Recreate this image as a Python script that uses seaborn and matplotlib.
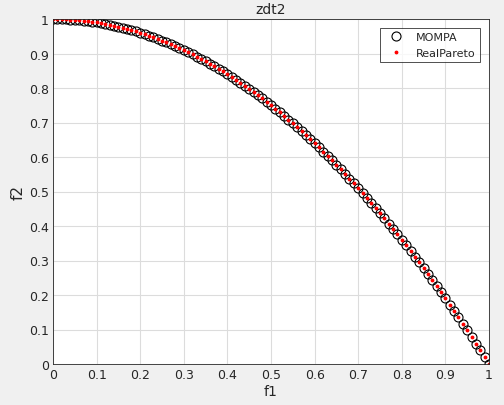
import matplotlib
matplotlib.use("Agg")
import matplotlib.pyplot as plt
import seaborn as sns

f1 = [i / 100 for i in range(101)]
f2 = [1.0, 0.9999, 0.9996, 0.9991, 0.9984, 0.9975, 0.9964, 0.9951, 0.9936, 0.9919,
      0.99, 0.9879, 0.9856, 0.9831, 0.9804, 0.9775, 0.9744, 0.9711, 0.9676, 0.9639,
      0.96, 0.9559, 0.9516, 0.9471, 0.9424, 0.9375, 0.9324, 0.9271, 0.9216, 0.9159,
      0.91, 0.9039, 0.8976, 0.8911, 0.8844, 0.8775, 0.8704, 0.8631, 0.8556, 0.8479,
      0.84, 0.8319, 0.8236, 0.8151, 0.8064, 0.7975, 0.7884, 0.7791, 0.7696, 0.7599,
      0.75, 0.7399, 0.7296, 0.7191, 0.7084, 0.6975, 0.6864, 0.6751, 0.6636, 0.6519,
      0.64, 0.6279, 0.6156, 0.6031, 0.5904, 0.5775, 0.5644, 0.5511, 0.5376, 0.5239,
      0.51, 0.4959, 0.4816, 0.4671, 0.4524, 0.4375, 0.4224, 0.4071, 0.3916, 0.3759,
      0.36, 0.3439, 0.3276, 0.3111, 0.2944, 0.2775, 0.2604, 0.2431, 0.2256, 0.2079,
      0.19, 0.1719, 0.1536, 0.1351, 0.1164, 0.0975, 0.0784, 0.0591, 0.0396, 0.0199,
      0.0]

sns.set_style("whitegrid", {"grid.color": "#dcdcdc", "axes.edgecolor": "#262626"})
plt.rcParams['font.family'] = ['DejaVu Sans']

fig = plt.figure(figsize=(5.04, 4.06), dpi=100, facecolor="#f0f0f0")
ax = fig.add_axes([53/504, 41/406, 436/504, 345/406])

ax.plot(f1, f2, 'o', mfc='none', mec='black', ms=6.5, mew=0.8, label='MOMPA')
ax.plot(f1, f2, '.', color='red', ms=3.5, label='RealPareto')

ax.set_xlim(0, 1)
ax.set_ylim(0, 1)
ticks = [i / 10 for i in range(11)]
labels = ['0', '0.1', '0.2', '0.3', '0.4', '0.5', '0.6', '0.7', '0.8', '0.9', '1']
ax.set_xticks(ticks)
ax.set_xticklabels(labels, fontsize=9)
ax.set_yticks(ticks)
ax.set_yticklabels(labels, fontsize=9)
ax.tick_params(length=3, direction='in', pad=3)
ax.set_xlabel('f1', fontsize=10, labelpad=2)
ax.set_ylabel('f2', fontsize=11, labelpad=2)
ax.set_title('zdt2', fontsize=10, pad=4)
for s in ax.spines.values():
    s.set_linewidth(0.6)
leg = ax.legend(loc='upper right', fontsize=8, frameon=True, fancybox=False,
                edgecolor='black', borderaxespad=0.8)
leg.get_frame().set_linewidth(0.6)

fig.savefig('out.png', dpi=100, facecolor=fig.get_facecolor())
